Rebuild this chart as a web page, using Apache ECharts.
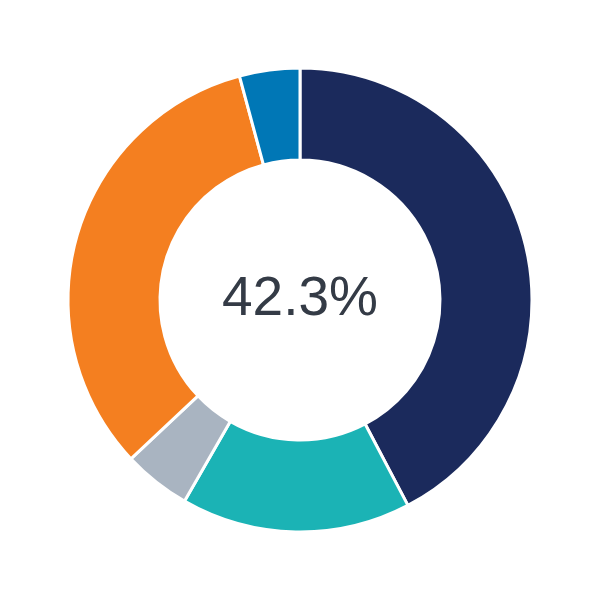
<!DOCTYPE html>
<html lang="en">
<head>
  <meta charset="UTF-8">
  <title>donut</title>
  <script src="https://cdn.jsdelivr.net/npm/echarts@6/dist/echarts.min.js"></script>
  <style>
    html, body { margin: 0; padding: 0; background: #fff; }
    #chart { width: 600px; height: 600px; }
  </style>
</head>
<body>
<div id="chart"></div>
<script>
  // 数据
  var names = ['A', 'B', 'C', 'D', 'E'];
  var values = [42.3, 16.0, 4.7, 32.8, 4.2];
  var colors = ['#1b2a5c', '#1bb3b5', '#a9b4c1', '#f47f20', '#0077b6'];
  var centerText = '42.3%';

  var myChart = echarts.init(document.getElementById('chart'));
  var data = names.map(function (n, i) {
    return { name: n, value: values[i], itemStyle: { color: colors[i] } };
  });

  var option = {
    animation: false,
    title: {
      text: centerText,
      left: 'center',
      top: 'middle',
      textStyle: {
        fontFamily: '"Liberation Sans", Arial, sans-serif',
        fontWeight: 'normal',
        fontSize: 55,
        color: '#343b46'
      }
    },
    series: [{
      type: 'pie',
      center: [300, 300],
      radius: [140, 232],
      startAngle: 90,
      clockwise: true,
      label: { show: false },
      labelLine: { show: false },
      itemStyle: { borderColor: '#fff', borderWidth: 3 },
      data: data
    }]
  };

  option && myChart.setOption(option);
</script>
</body>
</html>
